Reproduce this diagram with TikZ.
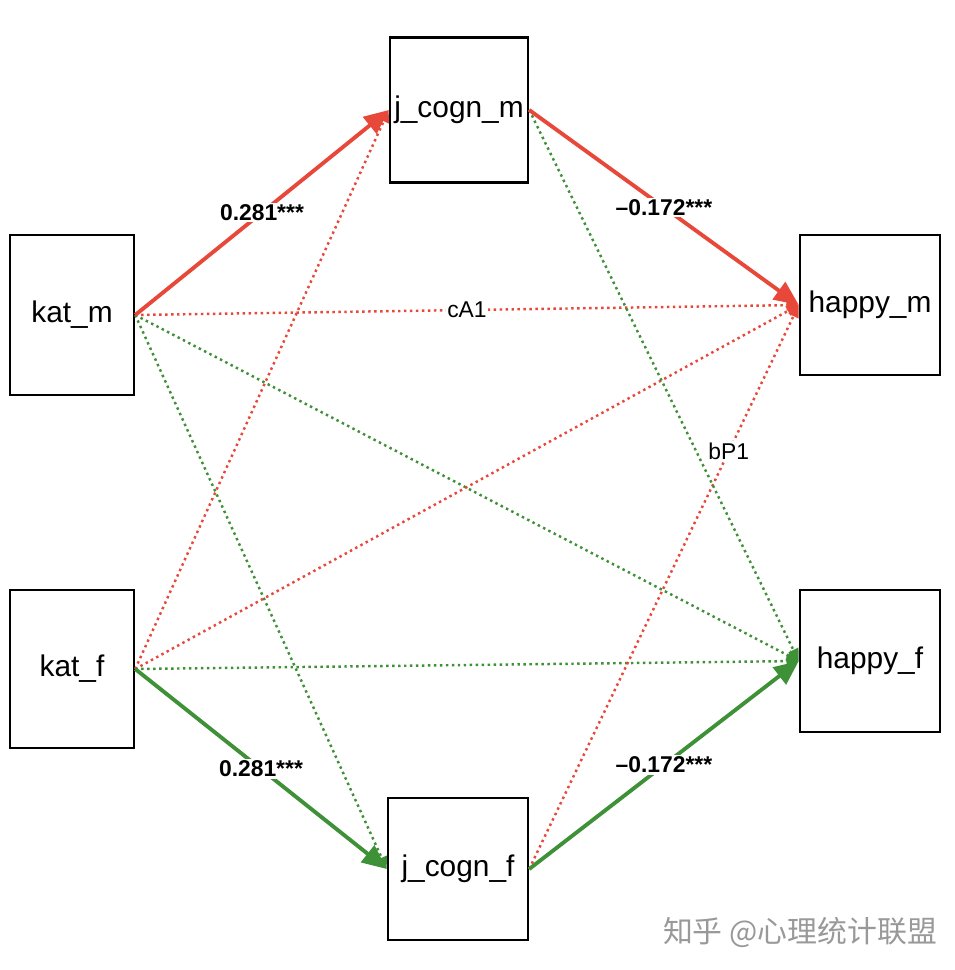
\documentclass[tikz,border=0pt]{standalone}
\usepackage{fontspec}
\setmainfont{Liberation Sans}
\newfontfamily\cjk{Noto Sans CJK SC}
\usetikzlibrary{arrows.meta}
\definecolor{rd}{RGB}{232,72,58}
\definecolor{gn}{RGB}{62,145,55}
\begin{document}
\begin{tikzpicture}[x=0.02cm,y=-0.02cm,
  box/.style={draw,line width=1.4pt,inner sep=1pt,font=\fontsize{17}{20}\selectfont},
  sol/.style={line width=2.2pt,-{Triangle[length=14pt,width=12pt]}},
  dot/.style={line width=1.4pt,dotted,-{Triangle[length=7pt,width=6pt]}},
  lab/.style={fill=white,inner sep=1pt,text=black,font=\fontsize{13}{16}\selectfont\bfseries}]
\useasboundingbox (0,0) rectangle (955,970);
\node[box,minimum width=2.48cm,minimum height=3.2cm] (km) at (72,315) {kat\_m};
\node[box,minimum width=2.48cm,minimum height=3.16cm] (kf) at (72,669) {kat\_f};
\node[box,minimum width=2.76cm,minimum height=2.9cm] (jm) at (459,110) {j\_cogn\_m};
\node[box,minimum width=2.8cm,minimum height=2.84cm] (jf) at (458,869) {j\_cogn\_f};
\node[box,minimum width=2.8cm,minimum height=2.8cm] (hm) at (870,305) {happy\_m};
\node[box,minimum width=2.8cm,minimum height=2.84cm] (hf) at (870,661) {happy\_f};
% dotted
\draw[dot,rd] (km.east) -- node[lab,font=\fontsize{13}{16}\selectfont] {cA1} (hm.west);
\draw[dot,gn] (km.east) -- (hf.west);
\draw[dot,gn] (km.east) -- (jf.west);
\draw[dot,rd] (kf.east) -- (jm.west);
\draw[dot,rd] (kf.east) -- (hm.west);
\draw[dot,gn] (kf.east) -- (hf.west);
\draw[dot,rd] (jf.east) -- node[lab,pos=0.74,font=\fontsize{13}{16}\selectfont] {bP1} (hm.west);
\draw[dot,gn] (jm.east) -- (hf.west);
% solid
\draw[sol,rd] (km.east) -- node[lab] {0.281***} (jm.west);
\draw[sol,rd] (jm.east) -- node[lab] {–0.172***} (hm.west);
\draw[sol,gn] (kf.east) -- node[lab] {0.281***} (jf.west);
\draw[sol,gn] (jf.east) -- node[lab] {–0.172***} (hf.west);
\node[text=gray!80,font=\cjk\fontsize{17}{20}\selectfont] (wm) at (800,932) {知乎 @心理统计联盟};
\end{tikzpicture}
\end{document}
